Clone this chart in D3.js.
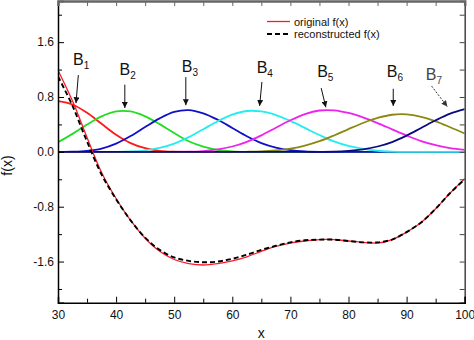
<!DOCTYPE html>
<html>
<head>
<meta charset="utf-8">
<script src="https://cdn.jsdelivr.net/npm/d3@7"></script>
<style>
  html, body { margin: 0; padding: 0; background: #fff; }
  svg { display: block; font-family: "Liberation Sans", Arial, Helvetica, sans-serif; }
</style>
</head>
<body>
<svg id="chart" width="474" height="340"></svg>
<script>
// ---------------- data ----------------
const xValues = [30, 32.5, 35, 37.5, 40, 42.5, 45, 47.5, 50, 52.5, 55, 57.5, 60, 62.5, 65, 67.5, 70, 72.5, 75, 77.5, 80, 82.5, 85, 87.5, 90, 92.5, 95, 97.5, 100];

const b1 = [0.740, 0.691, 0.569, 0.409, 0.250, 0.128, 0.053, 0.015, 0.002, 0, 0, 0, 0, 0, 0, 0, 0, 0, 0, 0, 0, 0, 0, 0, 0, 0, 0, 0, 0];
const b2 = [0.140, 0.262, 0.398, 0.518, 0.590, 0.589, 0.518, 0.404, 0.275, 0.155, 0.077, 0.030, 0.007, 0, 0, 0, 0, 0, 0, 0, 0, 0, 0, 0, 0, 0, 0, 0, 0];
const b3 = [0, 0.002, 0.014, 0.048, 0.120, 0.230, 0.362, 0.488, 0.582, 0.609, 0.562, 0.468, 0.349, 0.228, 0.128, 0.062, 0.024, 0.006, 0, 0, 0, 0, 0, 0, 0, 0, 0, 0, 0];
const b4 = [0, 0, 0, 0, 0, 0.005, 0.022, 0.058, 0.120, 0.214, 0.330, 0.447, 0.542, 0.596, 0.589, 0.536, 0.451, 0.349, 0.245, 0.152, 0.086, 0.042, 0.016, 0.004, 0, 0, 0, 0, 0];
const b5 = [0, 0, 0, 0, 0, 0, 0, 0, 0, 0.002, 0.012, 0.035, 0.078, 0.146, 0.241, 0.352, 0.461, 0.551, 0.603, 0.605, 0.567, 0.502, 0.419, 0.328, 0.238, 0.156, 0.097, 0.054, 0.030];
const b6 = [0, 0, 0, 0, 0, 0, 0, 0, 0, 0, 0, 0, 0, 0.001, 0.006, 0.021, 0.047, 0.091, 0.155, 0.239, 0.332, 0.421, 0.494, 0.541, 0.547, 0.511, 0.445, 0.359, 0.267];
const b7 = [0, 0, 0, 0, 0, 0, 0, 0, 0, 0, 0, 0, 0, 0, 0, 0, 0, 0, 0, 0.002, 0.013, 0.036, 0.078, 0.143, 0.237, 0.348, 0.460, 0.557, 0.622];

const original      = [1.19, 0.74, 0.21, -0.30, -0.68, -1.00, -1.26, -1.45, -1.57, -1.63, -1.65, -1.63, -1.59, -1.53, -1.45, -1.38, -1.33, -1.30, -1.28, -1.28, -1.30, -1.32, -1.33, -1.28, -1.17, -1.03, -0.83, -0.60, -0.39];
const reconstructed = [1.10, 0.67, 0.15, -0.33, -0.69, -1.00, -1.25, -1.43, -1.54, -1.59, -1.61, -1.60, -1.56, -1.50, -1.43, -1.37, -1.32, -1.29, -1.28, -1.28, -1.30, -1.32, -1.32, -1.28, -1.17, -1.03, -0.83, -0.60, -0.40];

const basisNames  = ["1", "2", "3", "4", "5", "6", "7"];
const basisColors = ["#ff1a1a", "#22dd22", "#1010c8", "#22eef0", "#ee22ee", "#8a8a10", "#0a0a80"];

const xMajorTicks = [30, 40, 50, 60, 70, 80, 90, 100];
const xMinorTicks = [35, 45, 55, 65, 75, 85, 95];
const yMajorTicks = [-1.6, -0.8, 0.0, 0.8, 1.6];
const yMinorTicks = [-2.0, -1.2, -0.4, 0.4, 1.2, 2.0];

// label anchor positions in data units (x, y of text baseline) and arrow start/end
const labelX   = [32.6, 40.6, 51.3, 64.2, 74.6, 86.6, 93.3];
const labelY   = [1.27, 1.12, 1.17, 1.15, 1.09, 1.09, 1.05];
const arrowX0  = [33.5, 41.5, 52.0, 65.1, 75.3, 87.7, 94.3];
const arrowY0  = [1.12, 0.98, 1.09, 1.02, 0.93, 0.92, 0.96];
const arrowX1  = [33.1, 41.5, 52.0, 64.7, 76.1, 87.7, 97.0];
const arrowY1  = [0.71, 0.64, 0.68, 0.67, 0.65, 0.67, 0.66];

// ---------------- chart ----------------
const svg = d3.select("#chart");
const W = 474, H = 340;
const m = { left: 58, right: 9.3, top: 1, bottom: 37.3 };
const x = d3.scaleLinear().domain([30, 100]).range([m.left, W - m.right]);
const y = d3.scaleLinear().domain([-2.2, 2.2]).range([H - m.bottom, m.top]);

svg.append("defs").append("clipPath").attr("id", "clip")
  .append("rect").attr("x", x(30)).attr("y", y(2.2)).attr("width", x(100) - x(30)).attr("height", y(-2.2) - y(2.2));

const defs = svg.select("defs");
function marker(id, color) {
  defs.append("marker").attr("id", id).attr("viewBox", "0 0 10 10")
    .attr("refX", 10).attr("refY", 5).attr("markerWidth", 6).attr("markerHeight", 6)
    .attr("markerUnits", "userSpaceOnUse").attr("orient", "auto")
    .append("path").attr("d", "M0,0 L10,5 L0,10 Z").attr("fill", color);
}
marker("arrBlack", "#111");
marker("arrGray", "#333");

const plot = svg.append("g").attr("clip-path", "url(#clip)");
const line = d3.line().x((d, i) => x(xValues[i])).y(d => y(d)).curve(d3.curveCatmullRom.alpha(0.5));

const basis = [b1, b2, b3, b4, b5, b6, b7];
basis.forEach((s, i) => {
  plot.append("path").datum(s).attr("d", line)
    .attr("fill", "none").attr("stroke", basisColors[i]).attr("stroke-width", 1.8);
});
plot.append("path").datum(original).attr("d", line)
  .attr("fill", "none").attr("stroke", "#ff1a2a").attr("stroke-width", 1.3);
plot.append("path").datum(reconstructed).attr("d", line)
  .attr("fill", "none").attr("stroke", "#000").attr("stroke-width", 1.9).attr("stroke-dasharray", "5,3");

// ---------------- axes ----------------
const fmtY = d => d.toFixed(1);
const axisFont = g => g.selectAll("text").attr("font-size", 12).attr("fill", "#111")
  .attr("font-family", "'Liberation Sans', Arial, sans-serif");

// left
svg.append("g").attr("transform", `translate(${x(30)},0)`)
  .call(d3.axisLeft(y).tickValues(yMajorTicks).tickSize(-6).tickPadding(4).tickFormat(fmtY))
  .call(axisFont).call(g => g.select(".domain").attr("stroke-width", 1.5));
svg.append("g").attr("transform", `translate(${x(30)},0)`)
  .call(d3.axisLeft(y).tickValues(yMinorTicks).tickSize(-4).tickFormat(""))
  .call(g => g.select(".domain").remove());
// right
svg.append("g").attr("transform", `translate(${x(100)},0)`)
  .call(d3.axisRight(y).tickValues(yMajorTicks.concat(yMinorTicks)).tickSize(-5).tickFormat(""))
  .call(g => g.selectAll("line,path").attr("stroke", "#444"))
  .call(g => g.select(".domain").attr("stroke-width", 1.5));
// bottom
svg.append("g").attr("transform", `translate(0,${y(-2.2)})`)
  .call(d3.axisBottom(x).tickValues(xMajorTicks).tickSize(-6).tickPadding(8).tickFormat(d3.format("d")))
  .call(axisFont).call(g => g.select(".domain").attr("stroke-width", 1.5));
svg.append("g").attr("transform", `translate(0,${y(-2.2)})`)
  .call(d3.axisBottom(x).tickValues(xMinorTicks).tickSize(-4).tickFormat(""))
  .call(g => g.select(".domain").remove());
// top
svg.append("g").attr("transform", `translate(0,${y(2.2)})`)
  .call(d3.axisTop(x).tickValues(xMajorTicks.concat(xMinorTicks)).tickSize(-5).tickFormat(""))
  .call(g => g.selectAll("line,path").attr("stroke", "#666"))
  .call(g => g.select(".domain").attr("stroke-width", 2.5));

// axis titles
svg.append("text").attr("x", (x(30) + x(100)) / 2).attr("y", 338).attr("text-anchor", "middle")
  .attr("font-size", 14).attr("fill", "#111").text("x");
svg.append("text").attr("transform", `translate(12,${y(-0.2)}) rotate(-90)`).attr("text-anchor", "middle")
  .attr("font-size", 14).attr("fill", "#111").text("f(x)");

// ---------------- legend ----------------
const lg = svg.append("g");
lg.append("line").attr("x1", 267).attr("x2", 290).attr("y1", 21.5).attr("y2", 21.5)
  .attr("stroke", "#ff1a2a").attr("stroke-width", 1.3);
lg.append("text").attr("x", 294).attr("y", 25.5).attr("font-size", 11).attr("fill", "#111").text("original f(x)");
lg.append("line").attr("x1", 267).attr("x2", 290).attr("y1", 34).attr("y2", 34)
  .attr("stroke", "#000").attr("stroke-width", 1.9).attr("stroke-dasharray", "5,3");
lg.append("text").attr("x", 294).attr("y", 38).attr("font-size", 11).attr("fill", "#111").text("reconstructed f(x)");

// ---------------- basis labels + arrows ----------------
basisNames.forEach((n, i) => {
  const gray = i === 6;
  const t = svg.append("text").attr("x", x(labelX[i])).attr("y", y(labelY[i]))
    .attr("font-size", 16).attr("fill", gray ? "#444" : "#111");
  t.append("tspan").text("B");
  t.append("tspan").attr("dy", 4).attr("font-size", 10).text(n);
  svg.append("line")
    .attr("x1", x(arrowX0[i])).attr("y1", y(arrowY0[i]))
    .attr("x2", x(arrowX1[i])).attr("y2", y(arrowY1[i]))
    .attr("stroke", gray ? "#333" : "#111").attr("stroke-width", 1)
    .attr("stroke-dasharray", gray ? "2,1.5" : null)
    .attr("marker-end", gray ? "url(#arrGray)" : "url(#arrBlack)");
});
</script>
</body>
</html>
